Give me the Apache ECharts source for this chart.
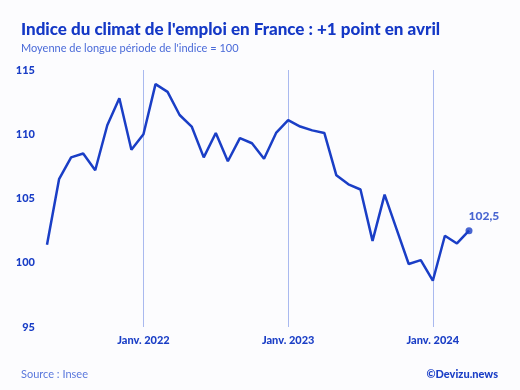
<!DOCTYPE html>
<html>
<head>
<meta charset="utf-8">
<script src="https://cdn.jsdelivr.net/npm/echarts@6/dist/echarts.min.js"></script>
<style>
html,body{margin:0;padding:0;background:#fcfcfe;}
#chart{width:520px;height:390px;}
</style>
</head>
<body>
<div id="chart"></div>
<script>
const months = [
  '2021-05','2021-06','2021-07','2021-08','2021-09','2021-10','2021-11','2021-12',
  '2022-01','2022-02','2022-03','2022-04','2022-05','2022-06','2022-07','2022-08','2022-09','2022-10','2022-11','2022-12',
  '2023-01','2023-02','2023-03','2023-04','2023-05','2023-06','2023-07','2023-08','2023-09','2023-10','2023-11','2023-12',
  '2024-01','2024-02','2024-03','2024-04'
];
const values = [
  101.4,106.5,108.2,108.5,107.2,110.7,112.8,108.8,
  110.0,113.9,113.3,111.5,110.6,108.2,110.1,107.9,109.7,109.3,108.1,110.1,
  111.1,110.6,110.3,110.1,106.8,106.1,105.7,101.7,105.3,102.6,99.9,100.2,
  98.6,102.1,101.5,102.5
];
const tickMonths = ['2022-01','2023-01','2024-01'];
const tickLabels = ['Janv. 2022','Janv. 2023','Janv. 2024'];
const yTicks = [95,100,105,110,115];

const blue = '#1a3ec6';
const chart = echarts.init(document.getElementById('chart'));
const isTick = (i) => tickMonths.indexOf(months[i]) >= 0;
const lastIdx = values.length - 1;

chart.setOption({
  backgroundColor: '#fcfcfe',
  animation: false,
  textStyle: { fontFamily: 'Lato' },
  title: [
    { text: "Indice du climat de l'emploi en France : +1 point en avril", left: 16, top: 16,
      textStyle: { color: '#1438c6', fontSize: 17, fontWeight: 900, fontFamily: 'Lato' } },
    { text: 'Moyenne de longue période de l\'indice = 100', left: 16, top: 38,
      textStyle: { color: '#4a6ad8', fontSize: 11, fontWeight: 'normal', fontFamily: 'Lato' } },
    { text: 'Source : Insee', left: 16, top: 364,
      textStyle: { color: '#5a78dc', fontSize: 11, fontWeight: 'normal', fontFamily: 'Lato' } },
    { text: '©Devizu.news', right: 17, top: 364,
      textStyle: { color: blue, fontSize: 11, fontWeight: 900, fontFamily: 'Lato' } }
  ],
  grid: { left: 47, right: 51, top: 70, bottom: 63 },
  xAxis: {
    type: 'category',
    data: months,
    boundaryGap: false,
    axisLine: { show: false },
    axisTick: { show: false },
    splitLine: { show: true, interval: (i) => isTick(i), lineStyle: { color: '#a9b9ef', width: 1 } },
    axisLabel: {
      interval: (i) => isTick(i),
      formatter: (v) => tickLabels[tickMonths.indexOf(v)] || '',
      color: blue, fontSize: 11, fontWeight: 900, margin: 8
    }
  },
  yAxis: {
    type: 'value',
    min: yTicks[0], max: yTicks[yTicks.length - 1], interval: 5,
    axisLine: { show: false },
    axisTick: { show: false },
    splitLine: { show: false },
    axisLabel: { color: blue, fontSize: 11, fontWeight: 900, margin: 12 }
  },
  series: [
    {
      type: 'line',
      data: values,
      showSymbol: false,
      symbol: 'none',
      lineStyle: { color: blue, width: 2.5 },
      z: 3
    },
    {
      type: 'scatter',
      data: [[months[lastIdx], values[lastIdx]]],
      symbol: 'circle',
      symbolSize: 7,
      itemStyle: { color: blue },
      label: {
        show: true,
        formatter: () => String(values[lastIdx]).replace('.', ','),
        position: [3, -11],
        align: 'left',
        verticalAlign: 'middle',
        color: blue, fontSize: 12, fontWeight: 900
      },
      z: 4
    }
  ]
});
</script>
</body>
</html>
